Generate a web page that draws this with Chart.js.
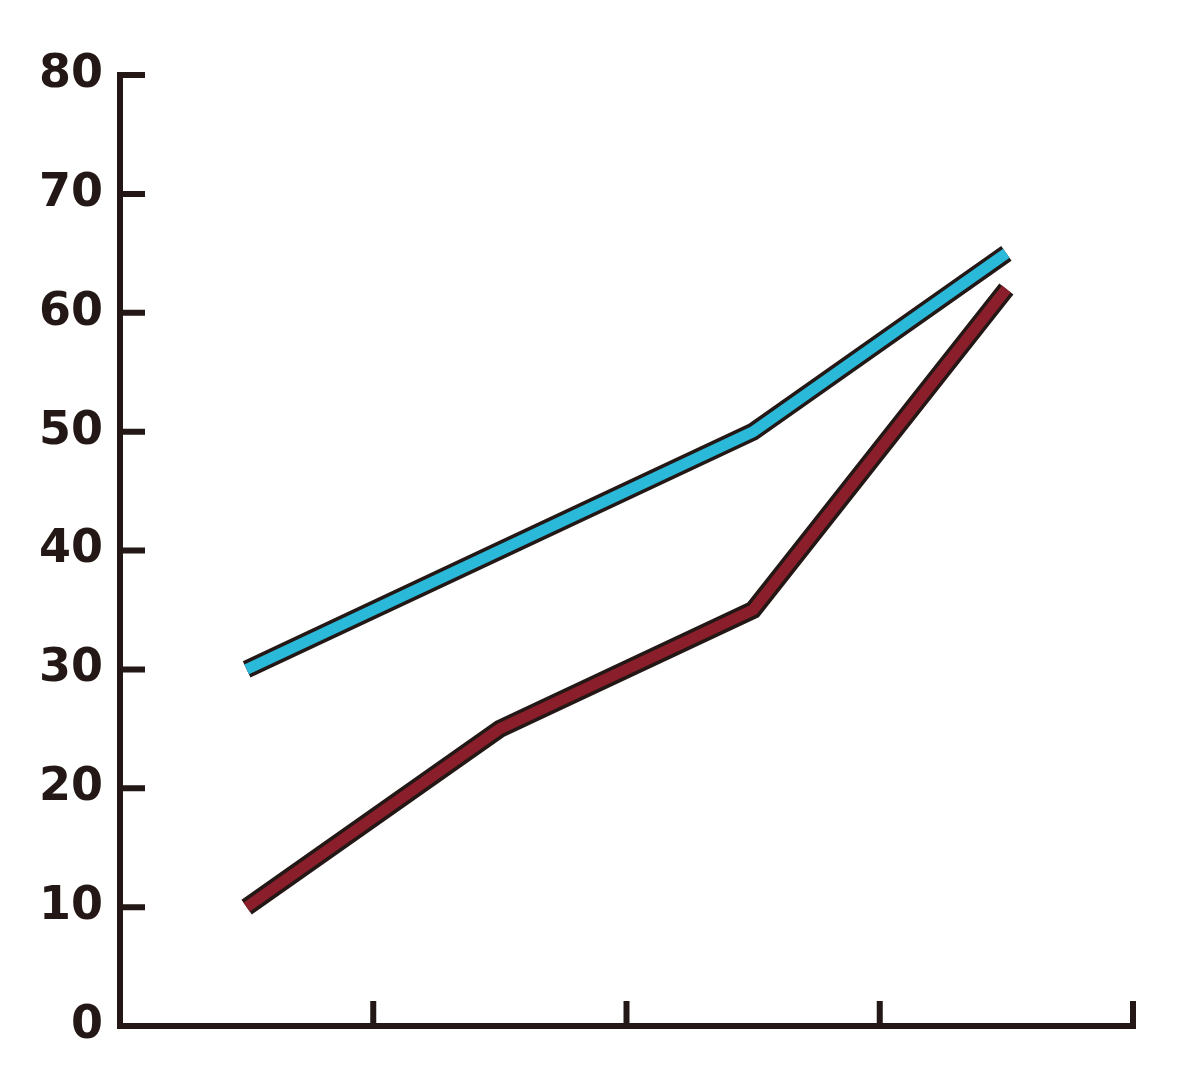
<!DOCTYPE html>
<html>
<head>
<meta charset="utf-8">
<script src="https://cdn.jsdelivr.net/npm/chart.js@4/dist/chart.umd.min.js"></script>
<style>
  body { margin: 0; background: #fff; }
  #wrap { width: 1200px; height: 1092px; }
</style>
</head>
<body>
<div id="wrap"><canvas id="chart"></canvas></div>
<script>
const categories = ['', '', '', ''];
const blueValues = [30, 40, 50, 65];
const redValues = [10, 25, 35, 62];
const yTicks = [0, 10, 20, 30, 40, 50, 60, 70, 80];

const ink = '#231815';

// axis lines with ticks pointing inward
const axisPlugin = {
    id: 'axisLines',
    afterDraw(chart) {
        const ctx = chart.ctx;
        const x = chart.scales.x;
        const y = chart.scales.y;
        const left = chart.chartArea.left;
        const bottom = y.getPixelForValue(0);
        const top = y.getPixelForValue(80);
        const right = x.getPixelForValue(categories.length - 0.5);
        ctx.save();
        ctx.strokeStyle = ink;
        ctx.lineWidth = 6;
        ctx.lineCap = 'butt';
        ctx.beginPath();
        ctx.moveTo(left, top - 3);
        ctx.lineTo(left, bottom + 3);
        ctx.moveTo(left - 3, bottom);
        ctx.lineTo(right + 3, bottom);
        yTicks.forEach(v => {
            const py = y.getPixelForValue(v);
            ctx.moveTo(left, py);
            ctx.lineTo(left + 25, py);
        });
        for (let i = 0; i < categories.length; i++) {
            const px = x.getPixelForValue(i + 0.5);
            ctx.moveTo(px, bottom);
            ctx.lineTo(px, bottom - 25);
        }
        ctx.stroke();
        ctx.restore();
    }
};

function lineSet(values, color, width, order) {
    return {
        data: values,
        borderColor: color,
        borderWidth: width,
        borderJoinStyle: 'miter',
        borderCapStyle: 'butt',
        pointRadius: 0,
        tension: 0,
        fill: false,
        order: order
    };
}

new Chart(document.getElementById('chart'), {
    type: 'line',
    data: {
        labels: categories,
        datasets: [
            lineSet(redValues, ink, 18, 4),
            lineSet(redValues, '#8b1e2b', 11, 3),
            lineSet(blueValues, ink, 18, 2),
            lineSet(blueValues, '#2bb9d9', 11, 1)
        ]
    },
    plugins: [axisPlugin],
    options: {
        responsive: true,
        maintainAspectRatio: false,
        animation: false,
        layout: {
            padding: { top: 75, right: 67, bottom: 66, left: 0 }
        },
        scales: {
            x: {
                display: false,
                offset: true
            },
            y: {
                min: 0,
                max: 80,
                afterFit(scale) { scale.width = 120; },
                grid: { display: false, drawTicks: false },
                border: { display: false },
                ticks: {
                    stepSize: 10,
                    padding: 17,
                    color: ink,
                    font: { family: 'DejaVu Sans', weight: 'bold', size: 46 }
                }
            }
        },
        plugins: {
            legend: { display: false },
            tooltip: { enabled: false }
        }
    }
});
</script>
</body>
</html>
